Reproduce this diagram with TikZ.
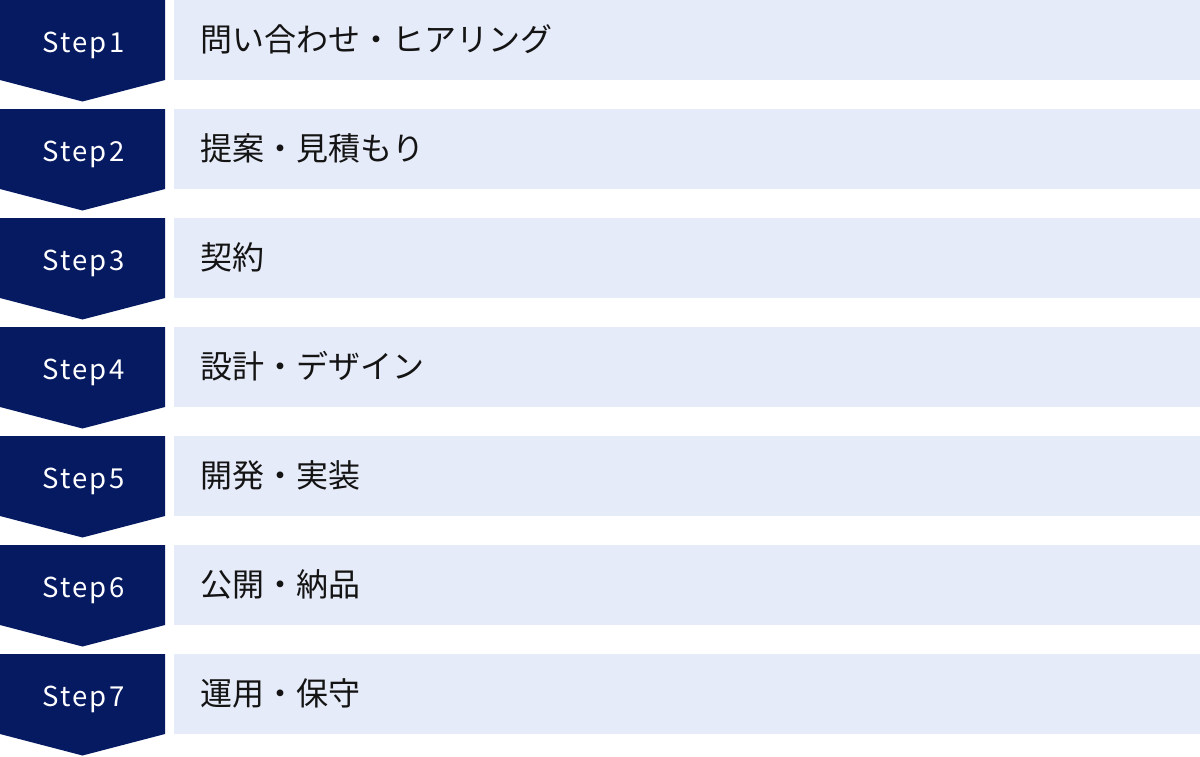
\documentclass[tikz,border=0pt]{standalone}
\usepackage{fontspec}
\newfontfamily\jpfont{Noto Sans CJK JP}
\newfontfamily\stepfont[LetterSpace=8]{Noto Sans CJK JP}
\definecolor{navy}{RGB}{6,26,98}
\definecolor{pale}{RGB}{230,235,249}
\definecolor{ink}{RGB}{20,20,20}
\tikzset{
  stepshape/.style={fill=navy, draw=none},
  panel/.style={fill=pale, draw=none},
  steplabel/.style={text=white, font=\stepfont\fontsize{27.5}{32}\selectfont, inner sep=0pt, anchor=base},
  tasklabel/.style={text=ink, font=\jpfont\fontsize{32}{36}\selectfont, inner sep=0pt, anchor=base west},
}
\begin{document}
\begin{tikzpicture}[x=1pt,y=-1pt]
\useasboundingbox (0,0) rectangle (1200,756);
\foreach \i/\t in {1/問い合わせ・ヒアリング,2/提案・見積もり,3/契約,4/設計・デザイン,5/開発・実装,6/公開・納品,7/運用・保守}{
  \pgfmathsetmacro{\yy}{(\i-1)*109}
  \begin{scope}[yshift=-\yy pt]
    \path[stepshape] (0,0) -- (165,0) -- (165,80) -- (82.5,101.5) -- (0,80) -- cycle;
    \path[panel] (174,0) rectangle (1200,80);
    \node[steplabel] (s\i) at (83.5,52) {Step\i};
    \node[tasklabel] (t\i) at (200.5,51.5) {\t};
  \end{scope}
}
\end{tikzpicture}
\end{document}
